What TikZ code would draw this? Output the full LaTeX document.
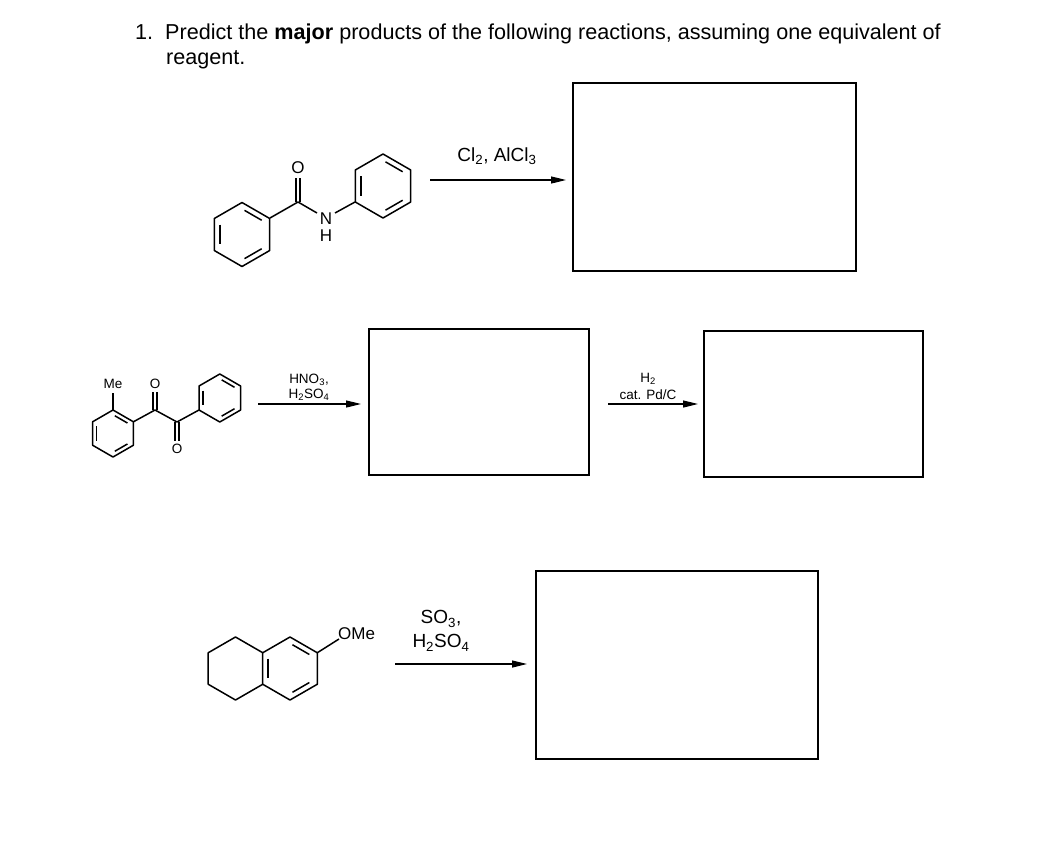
\documentclass[tikz,border=0pt]{standalone}
\usepackage{fontspec}
\setmainfont{Liberation Sans}
\usetikzlibrary{calc,arrows.meta}
\newcommand{\hexring}[3]{\draw[bond] ($(#1)+(90:#2)$) \foreach \a in {30,-30,-90,-150,-210} {-- ($(#1)+(\a:#2)$)} -- cycle;
  \foreach \a/\b in {#3} {\draw[bond,shorten <=0.09*#2pt,shorten >=0.09*#2pt] ($(#1)+(-\a:0.8*#2)$) -- ($(#1)+(-\b:0.8*#2)$);}}
\newcommand{\sub}[1]{\textsubscript{#1}}
\begin{document}
\begin{tikzpicture}[x=1pt,y=-1pt,
  bond/.style={line width=1.5pt,line join=round},
  boxst/.style={draw,line width=1.7pt},
  rxn/.style={line width=1.2pt,-{Triangle[length=15pt,width=7pt]}},
  lbl/.style={inner sep=0pt,font=\fontsize{19}{21}\selectfont},
  slbl/.style={inner sep=0pt,font=\fontsize{13.5}{15}\selectfont},
  atm/.style={inner sep=0pt,font=\fontsize{17}{19}\selectfont}]
\useasboundingbox (0,0) rectangle (1054,862);
\node[anchor=base west,inner sep=0pt,font=\fontsize{21.6}{25}\selectfont] (t1) at (135,39) {1.\ \ Predict the \textbf{major} products of the following reactions, assuming one equivalent of};
\node[anchor=base west,inner sep=0pt,font=\fontsize{21.6}{25}\selectfont] (t2) at (166,64) {reagent.};
% molecule 1
\coordinate (r1) at (242,234.5);
\coordinate (r2) at (383,186);
\hexring{r1}{32}{90/30,150/210,-90/-30}
\hexring{r2}{32}{150/210,90/30,-30/-90}
\draw[bond] (270,218) -- (298,202) -- (317,213);
\draw[bond] (296,202) -- (296,178) (300,202) -- (300,178);
\node[atm] (o1) at (298,168) {O};
\node[atm] (n1) at (326,219) {N};
\node[atm] (h1) at (326,236) {H};
\draw[bond] (335,213) -- (355,202);
% molecule 2
\coordinate (r3) at (113,433.5);
\coordinate (r4) at (219.8,398);
\hexring{r3}{23.5}{90/30,150/210,-90/-30}
\hexring{r4}{24}{150/210,90/30,-30/-90}
\draw[bond] (113,410) -- (113,393);
\node[slbl] (me) at (113,384) {Me};
\draw[bond] (133.4,421.8) -- (155,410) -- (177,422) -- (199,410);
\draw[bond] (153,410) -- (153,392) (157,410) -- (157,392);
\draw[bond] (175,422) -- (175,441) (179,422) -- (179,441);
\node[slbl] (o2) at (155,384) {O};
\node[slbl] (o3) at (177,449) {O};
% molecule 3
\coordinate (r5) at (290,668.5);
\coordinate (r6) at (235.5,668.5);
\hexring{r5}{31.5}{150/210,90/30,-30/-90}
\draw[bond] ($(r6)+(-30:31.5)$) -- ($(r6)+(-90:31.5)$) -- ($(r6)+(-150:31.5)$) -- ($(r6)+(-210:31.5)$) -- ($(r6)+(-270:31.5)$) -- ($(r6)+(-330:31.5)$);
\draw[bond] ($(r5)+(-30:31.5)$) -- (339,639);
\node[anchor=west,inner sep=0pt,font=\fontsize{17}{19}\selectfont] (ome) at (338,634) {OMe};
% boxes
\node[boxst,minimum width=283pt,minimum height=188pt,anchor=north west] (b1) at (572,82) {};
\node[boxst,minimum width=220pt,minimum height=146pt,anchor=north west] (b2) at (368,328) {};
\node[boxst,minimum width=219pt,minimum height=146pt,anchor=north west] (b3) at (703,330) {};
\node[boxst,minimum width=282pt,minimum height=188pt,anchor=north west] (b4) at (535,570) {};
% arrows
\coordinate (a1s) at (430,180); \coordinate (a1e) at (566,180);
\draw[rxn] (a1s) -- (a1e);
\node[lbl] (l1) at (497,156) {Cl\sub{2}, AlCl\sub{3}};
\coordinate (a2s) at (258,404); \coordinate (a2e) at (361,404);
\draw[rxn] (a2s) -- (a2e);
\node[slbl] (l2a) at (309,380) {HNO\sub{3},};
\node[slbl] (l2b) at (309,395) {H\sub{2}SO\sub{4}};
\coordinate (a3s) at (608,404); \coordinate (a3e) at (698,404);
\draw[rxn] (a3s) -- (a3e);
\node[slbl] (l3a) at (648,379) {H\sub{2}};
\node[slbl] (l3b) at (648,395) {cat. Pd/C};
\coordinate (a4s) at (395,664); \coordinate (a4e) at (527,664);
\draw[rxn] (a4s) -- (a4e);
\node[lbl] (l4a) at (441,619) {SO\sub{3},};
\node[lbl] (l4b) at (441,643) {H\sub{2}SO\sub{4}};
\end{tikzpicture}
\end{document}
